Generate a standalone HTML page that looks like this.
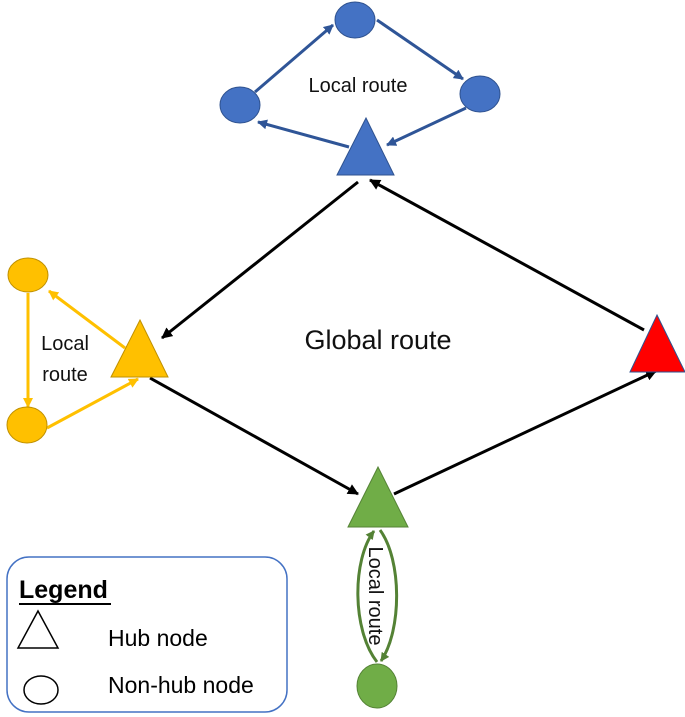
<!DOCTYPE html>
<html><head><meta charset="utf-8"><style>body{margin:0;background:#fff}svg{display:block}text{font-family:"Liberation Sans",sans-serif}</style></head><body>
<svg width="685" height="717" viewBox="0 0 685 717" xmlns="http://www.w3.org/2000/svg">
<defs>
<marker id="mb" markerWidth="11" markerHeight="11" refX="10" refY="5.5" orient="auto" markerUnits="userSpaceOnUse"><path d="M0,0 L11,5.5 L0,11 Z" fill="#000"/></marker>
<marker id="mbl" markerWidth="10" markerHeight="10" refX="9" refY="5" orient="auto" markerUnits="userSpaceOnUse"><path d="M0,0 L10,5 L0,10 Z" fill="#2f5597"/></marker>
<marker id="my" markerWidth="10" markerHeight="10" refX="9" refY="5" orient="auto" markerUnits="userSpaceOnUse"><path d="M0,0 L10,5 L0,10 Z" fill="#ffc000"/></marker>
<marker id="mg" markerWidth="9" markerHeight="9" refX="8" refY="4.5" orient="auto" markerUnits="userSpaceOnUse"><path d="M0,0 L9,4.5 L0,9 Z" fill="#548235"/></marker>
</defs>
<g stroke="#000" stroke-width="3" fill="none">
<line x1="358" y1="182" x2="162" y2="338" marker-end="url(#mb)"/>
<line x1="150" y1="378" x2="358" y2="494" marker-end="url(#mb)"/>
<line x1="394" y1="494" x2="656" y2="371" marker-end="url(#mb)"/>
<line x1="644" y1="330" x2="370" y2="180" marker-end="url(#mb)"/>
</g>
<g stroke="#2f5597" stroke-width="3" fill="none">
<line x1="255" y1="92" x2="333" y2="25" marker-end="url(#mbl)"/>
<line x1="377" y1="20" x2="463" y2="79" marker-end="url(#mbl)"/>
<line x1="466" y1="108" x2="387" y2="145" marker-end="url(#mbl)"/>
<line x1="349" y1="147" x2="258" y2="122" marker-end="url(#mbl)"/>
</g>
<g fill="#4472c4" stroke="#2f528f" stroke-width="1">
<ellipse cx="355" cy="20" rx="20" ry="18"/>
<ellipse cx="240" cy="105" rx="20" ry="18"/>
<ellipse cx="480" cy="94" rx="20" ry="18"/>
<polygon points="366,118 394,175 337,175"/>
</g>
<text x="358" y="92" font-size="20" text-anchor="middle" fill="#111">Local route</text>
<g stroke="#ffc000" stroke-width="3" fill="none">
<line x1="28" y1="293" x2="28" y2="407" marker-end="url(#my)"/>
<line x1="47" y1="428" x2="138" y2="379" marker-end="url(#my)"/>
<line x1="125" y1="348" x2="49" y2="291" marker-end="url(#my)"/>
</g>
<g fill="#ffc000" stroke="#bf9000" stroke-width="1">
<ellipse cx="28" cy="275" rx="20" ry="17"/>
<ellipse cx="27" cy="425" rx="20" ry="18"/>
<polygon points="140,320 168,377 111,377"/>
</g>
<text x="65" y="350" font-size="20" text-anchor="middle" fill="#111">Local</text>
<text x="65" y="381" font-size="20" text-anchor="middle" fill="#111">route</text>
<polygon points="657,315 685,372 630,372" fill="#ff0000" stroke="#2f528f" stroke-width="1"/>
<g stroke="#548235" stroke-width="3" fill="none">
<path d="M377,662 C352,630 352,560 374,531" marker-end="url(#mg)"/>
<path d="M380,530 C402,560 402,630 381,661" marker-end="url(#mg)"/>
</g>
<polygon points="378,467 408,527 348,527" fill="#70ad47" stroke="#548235" stroke-width="1"/>
<ellipse cx="377" cy="686" rx="20" ry="22" fill="#70ad47" stroke="#548235" stroke-width="1"/>
<text x="0" y="0" font-size="20" text-anchor="middle" fill="#111" transform="translate(369,596) rotate(90)">Local route</text>
<text x="378" y="349" font-size="27" text-anchor="middle" fill="#111">Global route</text>
<rect x="7" y="557" width="280" height="155" rx="22" fill="#fff" stroke="#4472c4" stroke-width="1.5"/>
<text x="19" y="598" font-size="25" font-weight="bold" fill="#000">Legend</text>
<line x1="19" y1="604" x2="111" y2="604" stroke="#000" stroke-width="2"/>
<polygon points="38,611 58,648 18,648" fill="none" stroke="#000" stroke-width="1.5"/>
<text x="108" y="646" font-size="23" fill="#000">Hub node</text>
<ellipse cx="41" cy="690" rx="17" ry="14" fill="none" stroke="#000" stroke-width="1.5"/>
<text x="108" y="693" font-size="23" fill="#000">Non-hub node</text>
</svg>
</body></html>
